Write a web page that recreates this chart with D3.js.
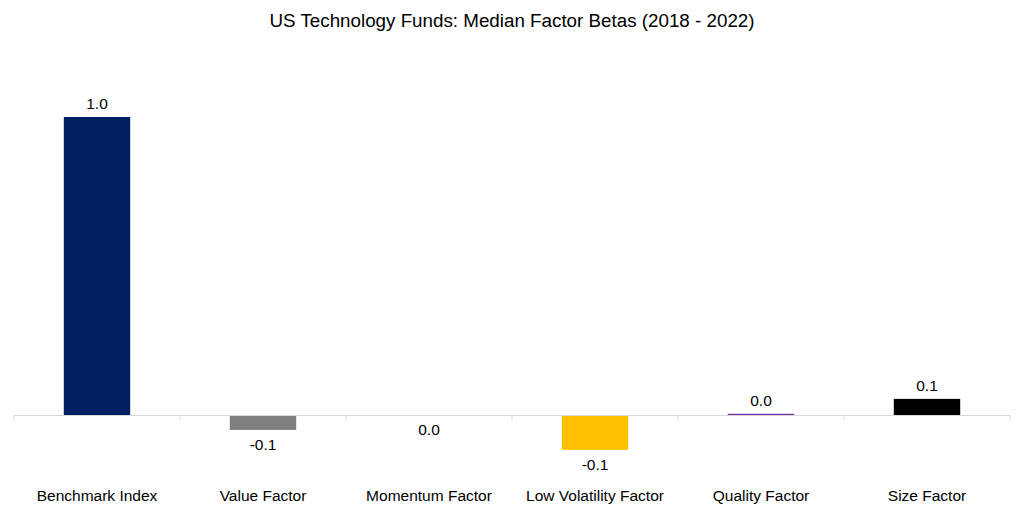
<!DOCTYPE html>
<html><head><meta charset="utf-8">
<script src="https://cdn.jsdelivr.net/npm/d3@7"></script>
<style>body{margin:0;background:#fff;}svg{display:block;font-family:"Liberation Sans",Arial,sans-serif;}</style>
</head><body>
<svg id="c" width="1024" height="512"></svg>
<script>
const categories = ["Benchmark Index","Value Factor","Momentum Factor","Low Volatility Factor","Quality Factor","Size Factor"];
const values = [1.0, -0.05, -0.001, -0.117, 0.004, 0.054];
const labels = ["1.0","-0.1","0.0","-0.1","0.0","0.1"];
const colors = ["#002060","#7f7f7f","#a5a5a5","#FFC000","#7030A0","#000000"];
const title = "US Technology Funds: Median Factor Betas (2018 - 2022)";

const svg = d3.select("#c");
const x = d3.scaleBand().domain(categories).range([14,1010]).paddingInner(0).paddingOuter(0);
const y = d3.scaleLinear().domain([-0.2,1.2]).range([474.6,57.4]);
const bw = x.bandwidth()*0.4;

svg.append("text").attr("x",512).attr("y",27).attr("text-anchor","middle")
  .attr("font-size",18.8).attr("fill","#000").text(title);

svg.selectAll("rect.bar").data(values).enter().append("rect")
  .attr("x",(d,i)=>x(categories[i])+x.bandwidth()/2-bw/2)
  .attr("width",bw)
  .attr("y",d=>y(Math.max(0,d)))
  .attr("height",d=>Math.max(0.5,Math.abs(y(d)-y(0))))
  .attr("fill",(d,i)=>colors[i]);

// axis
const ax = svg.append("g").attr("transform",`translate(0,${y(0)})`)
  .call(d3.axisBottom(x).tickSize(0).tickFormat(""));
ax.select(".domain").attr("stroke","#d9d9d9");
ax.selectAll(".tick").remove();
const bounds = [14].concat(categories.map(c=>x(c)+x.bandwidth()));
svg.selectAll("line.tk").data(bounds).enter().append("line")
  .attr("x1",d=>d).attr("x2",d=>d).attr("y1",y(0)).attr("y2",y(0)+5)
  .attr("stroke","#d9d9d9");

svg.selectAll("text.val").data(values).enter().append("text")
  .attr("x",(d,i)=>x(categories[i])+x.bandwidth()/2)
  .attr("y",d=> d>=0 ? y(d)-8 : y(d)+20)
  .attr("text-anchor","middle").attr("font-size",15.5).attr("fill","#000")
  .text((d,i)=>labels[i]);

svg.selectAll("text.cat").data(categories).enter().append("text")
  .attr("x",d=>x(d)+x.bandwidth()/2).attr("y",501)
  .attr("text-anchor","middle").attr("font-size",15.5).attr("fill","#000")
  .text(d=>d);
</script>
</body></html>
